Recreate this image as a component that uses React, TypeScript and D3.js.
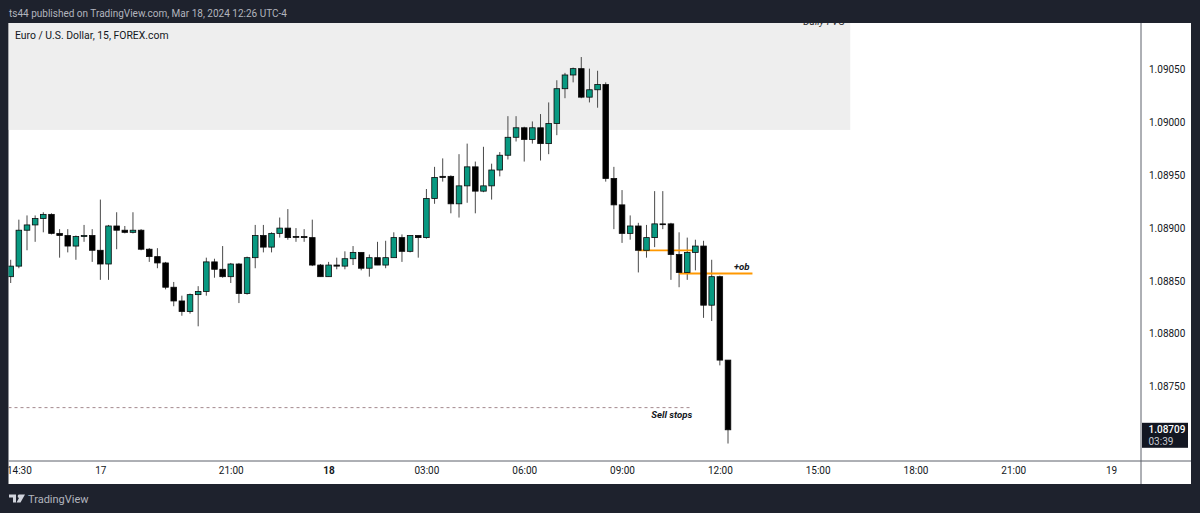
import React, { useEffect, useRef } from "react";
import * as d3 from "d3";

// 15 minute EURUSD bars, first bar is 14:15 on the 15th
const opens = [
  1.08854, 1.08864, 1.08898, 1.08903, 1.08909, 1.08913, 1.08895, 1.08893, 1.08883, 1.08892,
  1.08893, 1.08879, 1.08866, 1.08902, 1.08898, 1.08896, 1.08898, 1.0888, 1.08873, 1.08867,
  1.08844, 1.08831, 1.08821, 1.08837, 1.0884, 1.08868, 1.08861, 1.08854, 1.08866, 1.08838,
  1.08872, 1.08893, 1.08882, 1.08895, 1.089, 1.08892, 1.08892, 1.08891, 1.08865, 1.08854,
  1.08865, 1.08864, 1.08871, 1.08877, 1.08862, 1.08872, 1.08865, 1.08872, 1.08891, 1.08878,
  1.08893, 1.08891, 1.08928, 1.08949, 1.08949, 1.08923, 1.0894, 1.08958, 1.08935, 1.0894,
  1.08955, 1.08969, 1.08986, 1.08995, 1.08984, 1.08995, 1.0898, 1.08999, 1.09032, 1.09045,
  1.09051, 1.09024, 1.09031, 1.09036, 1.08947, 1.08922, 1.08895, 1.08902, 1.08879, 1.08891,
  1.08904, 1.08904, 1.08875, 1.08858, 1.08877, 1.08883, 1.08827, 1.08854, 1.08775,
];
const highs = [
  1.0887, 1.08908, 1.08912, 1.08912, 1.08915, 1.08914, 1.08899, 1.08899, 1.08893, 1.08903,
  1.08899, 1.08927, 1.08903, 1.08915, 1.08902, 1.08915, 1.08899, 1.08881, 1.08881, 1.08868,
  1.08849, 1.08836, 1.08838, 1.08845, 1.08872, 1.08871, 1.08883, 1.08867, 1.08867, 1.08873,
  1.08903, 1.08903, 1.08896, 1.0891, 1.08918, 1.089, 1.08899, 1.08908, 1.08866, 1.08868,
  1.08872, 1.08878, 1.08883, 1.08877, 1.08875, 1.08887, 1.08888, 1.08896, 1.08894, 1.08893,
  1.08893, 1.08937, 1.08958, 1.08966, 1.0895, 1.0897, 1.0898, 1.08963, 1.08977, 1.08961,
  1.08972, 1.09006, 1.09006, 1.08996, 1.09001, 1.09008, 1.09019, 1.0904, 1.09047, 1.09052,
  1.09062, 1.09051, 1.09049, 1.09038, 1.08958, 1.08936, 1.08912, 1.08905, 1.08903, 1.08935,
  1.08935, 1.08905, 1.08896, 1.08891, 1.08889, 1.08888, 1.0887, 1.08855, 1.08775,
];
const lows = [
  1.08848, 1.08862, 1.08879, 1.08887, 1.08896, 1.08894, 1.08872, 1.08877, 1.0887, 1.08887,
  1.08868, 1.08851, 1.08851, 1.0888, 1.08895, 1.08895, 1.08879, 1.08868, 1.08862, 1.08842,
  1.08826, 1.08817, 1.08819, 1.08807, 1.08836, 1.08853, 1.08853, 1.08848, 1.08829, 1.08837,
  1.08862, 1.08877, 1.08877, 1.08891, 1.08889, 1.08887, 1.08887, 1.08864, 1.08854, 1.08854,
  1.08861, 1.08861, 1.08865, 1.0886, 1.08854, 1.08865, 1.08862, 1.08872, 1.08868, 1.08877,
  1.08872, 1.0889, 1.08923, 1.08944, 1.08914, 1.0891, 1.08924, 1.08914, 1.08934, 1.08927,
  1.08949, 1.08965, 1.08982, 1.08963, 1.0898, 1.08964, 1.0897, 1.08988, 1.09023, 1.09038,
  1.09023, 1.09019, 1.09014, 1.08944, 1.08899, 1.08886, 1.08889, 1.08858, 1.08872, 1.08882,
  1.08899, 1.08851, 1.08844, 1.08851, 1.0886, 1.08815, 1.08812, 1.0877, 1.08696,
];
const closes = [
  1.08864, 1.08898, 1.08903, 1.08909, 1.08913, 1.08895, 1.08893, 1.08883, 1.08892, 1.08893,
  1.08879, 1.08866, 1.08902, 1.08898, 1.08896, 1.08898, 1.0888, 1.08873, 1.08867, 1.08844,
  1.08831, 1.08821, 1.08837, 1.0884, 1.08868, 1.08861, 1.08854, 1.08866, 1.08838, 1.08872,
  1.08893, 1.08882, 1.08895, 1.089, 1.08891, 1.08892, 1.08891, 1.08865, 1.08854, 1.08865,
  1.08864, 1.08871, 1.08877, 1.08862, 1.08872, 1.08865, 1.08872, 1.08891, 1.08878, 1.08893,
  1.08891, 1.08928, 1.08948, 1.08948, 1.08923, 1.0894, 1.08958, 1.08935, 1.0894, 1.08955,
  1.08969, 1.08986, 1.08995, 1.08984, 1.08995, 1.0898, 1.08999, 1.09032, 1.09045, 1.09051,
  1.09024, 1.09031, 1.09036, 1.08947, 1.08922, 1.08895, 1.08902, 1.08879, 1.08891, 1.08904,
  1.08904, 1.08875, 1.08858, 1.08877, 1.08883, 1.08827, 1.08854, 1.08775, 1.08709,
];

const priceTicks = [1.0905, 1.09, 1.0895, 1.089, 1.0885, 1.088, 1.0875];
const timeTickBars = [1, 11, 27, 39, 51, 63, 75, 87, 99, 111, 123, 135];
const timeTickLabels = ["14:30", "17", "21:00", "18", "03:00", "06:00", "09:00", "12:00", "15:00", "18:00", "21:00", "19"];

// drawings on the chart, in bar index / price
const zoneBottom = 1.08993;
const zoneEndBar = 103;
const obLevels = [
  { from: 77, to: 84, price: 1.08879 },
  { from: 82, to: 91, price: 1.08857 },
];
const sellStops = { to: 83.5, price: 1.0873 };
const lastPrice = 1.08709;
const countdown = "03:39";

const width = 1200;
const height = 513;
const pane = { left: 8.5, right: 1141, top: 23, bottom: 461 };
const outer = { right: 1191, bottom: 484 };
const font = "Roboto, sans-serif";
const frame = "#1e222d";
const upColor = "#089981";
const downColor = "#000000";

const App: React.FC = () => {
  const svgRef = useRef<SVGSVGElement | null>(null);

  useEffect(() => {
    const svg = d3.select(svgRef.current).attr("width", width).attr("height", height);
    svg.selectAll("*").remove();

    const x = d3.scaleLinear().domain([0, 88]).range([10.7, 728]);
    const y = d3.scaleLinear().domain([1.09, 1.0875]).range([122.5, 386.5]);

    svg.append("rect").attr("width", width).attr("height", height).attr("fill", frame);
    svg
      .append("rect")
      .attr("x", pane.left)
      .attr("y", pane.top)
      .attr("width", outer.right - pane.left)
      .attr("height", outer.bottom - pane.top)
      .attr("fill", "#ffffff");

    svg
      .append("clipPath")
      .attr("id", "pane")
      .append("rect")
      .attr("x", pane.left)
      .attr("y", pane.top)
      .attr("width", pane.right - pane.left)
      .attr("height", pane.bottom - pane.top);
    // used inside the translated axis group, so y starts at 0
    svg
      .append("clipPath")
      .attr("id", "timeaxis")
      .append("rect")
      .attr("x", pane.left)
      .attr("y", 0)
      .attr("width", pane.right - pane.left)
      .attr("height", outer.bottom - pane.bottom);

    const g = svg.append("g").attr("clip-path", "url(#pane)");

    g.append("rect")
      .attr("x", pane.left)
      .attr("y", pane.top)
      .attr("width", x(zoneEndBar) - pane.left)
      .attr("height", y(zoneBottom) - pane.top)
      .attr("fill", "#eeeeee");

    // label of the zone, almost entirely above the pane
    g.append("text")
      .attr("x", 824)
      .attr("y", 24.5)
      .attr("text-anchor", "middle")
      .attr("font-family", font)
      .attr("font-size", 10)
      .attr("font-style", "italic")
      .attr("fill", "#333333")
      .text("Daily FVG");

    g.append("text")
      .attr("x", 15)
      .attr("y", 38.5)
      .attr("font-family", font)
      .attr("font-size", 10.4)
      .attr("fill", "#131722")
      .text("Euro / U.S. Dollar, 15, FOREX.com");

    g.append("line")
      .attr("x1", pane.left)
      .attr("x2", x(sellStops.to))
      .attr("y1", y(sellStops.price))
      .attr("y2", y(sellStops.price))
      .attr("stroke", "#8c6b70")
      .attr("stroke-width", 0.8)
      .attr("stroke-dasharray", "3 3");
    g.append("text")
      .attr("x", x(sellStops.to) + 1)
      .attr("y", y(sellStops.price) + 10.5)
      .attr("text-anchor", "end")
      .attr("font-family", font)
      .attr("font-size", 9.6)
      .attr("font-style", "italic")
      .attr("font-weight", 700)
      .attr("fill", "#131722")
      .text("Sell stops");

    const bars = opens.map((o, i) => ({ i, o, h: highs[i], l: lows[i], c: closes[i] }));
    const bodyWidth = 5.6;

    g.selectAll(".wick")
      .data(bars)
      .enter()
      .append("line")
      .attr("class", "wick")
      .attr("x1", (d) => x(d.i))
      .attr("x2", (d) => x(d.i))
      .attr("y1", (d) => y(d.h))
      .attr("y2", (d) => y(d.l))
      .attr("stroke", "#4a4a4a")
      .attr("stroke-width", 1);

    g.selectAll(".ob")
      .data(obLevels)
      .enter()
      .append("line")
      .attr("class", "ob")
      .attr("x1", (d) => x(d.from))
      .attr("x2", (d) => x(d.to))
      .attr("y1", (d) => y(d.price))
      .attr("y2", (d) => y(d.price))
      .attr("stroke", "#ff9800")
      .attr("stroke-width", 1.8);

    g.selectAll(".body")
      .data(bars)
      .enter()
      .append("rect")
      .attr("class", "body")
      .attr("x", (d) => x(d.i) - bodyWidth / 2)
      .attr("y", (d) => y(Math.max(d.o, d.c)))
      .attr("width", bodyWidth)
      .attr("height", (d) => Math.max(0.8, y(Math.min(d.o, d.c)) - y(Math.max(d.o, d.c))))
      .attr("fill", (d) => (d.c > d.o ? upColor : downColor))
      .attr("stroke", "#0a0a0a")
      .attr("stroke-width", 0.8);

    g.append("text")
      .attr("x", x(obLevels[1].to) - 3)
      .attr("y", y(obLevels[1].price) - 4)
      .attr("text-anchor", "end")
      .attr("font-family", font)
      .attr("font-size", 9.6)
      .attr("font-style", "italic")
      .attr("font-weight", 700)
      .attr("fill", "#131722")
      .text("+ob");

    // price axis
    const yAxis = svg
      .append("g")
      .attr("transform", `translate(${pane.right},0)`)
      .call(d3.axisRight(y).tickValues(priceTicks).tickSize(0).tickPadding(8).tickFormat((d) => (d as number).toFixed(5)));
    yAxis.select(".domain").remove();
    yAxis.selectAll("text").attr("font-family", font).attr("font-size", 10).attr("fill", "#131722");

    // time axis
    const xAxis = svg
      .append("g")
      .attr("transform", `translate(0,${pane.bottom})`)
      .attr("clip-path", "url(#timeaxis)")
      .call(
        d3
          .axisBottom(x)
          .tickValues(timeTickBars)
          .tickSize(0)
          .tickPadding(6)
          .tickFormat((_, i) => timeTickLabels[i])
      );
    xAxis.select(".domain").remove();
    xAxis
      .selectAll("text")
      .attr("font-family", font)
      .attr("font-size", 10)
      .attr("fill", "#131722")
      .attr("font-weight", (_, i) => (timeTickLabels[i] === "18" ? 700 : 400));

    // pane borders
    const borders = [
      [pane.right, pane.top, pane.right, outer.bottom],
      [pane.left, pane.bottom, outer.right, pane.bottom],
    ];
    svg
      .selectAll(".border")
      .data(borders)
      .enter()
      .append("line")
      .attr("class", "border")
      .attr("x1", (d) => d[0])
      .attr("y1", (d) => d[1])
      .attr("x2", (d) => d[2])
      .attr("y2", (d) => d[3])
      .attr("stroke", "#5d606b")
      .attr("stroke-width", 1);

    // last price tag
    const tag = svg.append("g").attr("transform", `translate(${pane.right + 1},${y(lastPrice) - 7})`);
    tag.append("rect").attr("width", 46).attr("height", 25).attr("fill", "#131722");
    tag
      .append("text")
      .attr("x", 6.5)
      .attr("y", 10.5)
      .attr("font-family", font)
      .attr("font-size", 10)
      .attr("font-weight", 500)
      .attr("fill", "#ffffff")
      .text(lastPrice.toFixed(5));
    tag
      .append("text")
      .attr("x", 6.5)
      .attr("y", 22)
      .attr("font-family", font)
      .attr("font-size", 10)
      .attr("fill", "#c8cad0")
      .text(countdown);

    // header and footer
    svg
      .append("text")
      .attr("x", 9)
      .attr("y", 17)
      .attr("font-family", font)
      .attr("font-size", 10)
      .attr("fill", "#b2b5be")
      .text("ts44 published on TradingView.com, Mar 18, 2024 12:26 UTC-4");

    svg
      .append("path")
      .attr("transform", "translate(9,494.5)")
      .attr("d", "M0 0H7V8H4V3H0ZM11 0H16L11.5 8H7.5L10 3.5A1.8 1.8 0 1 1 11 0Z")
      .attr("fill", "#d1d4dc");
    svg
      .append("text")
      .attr("x", 28)
      .attr("y", 503)
      .attr("font-family", font)
      .attr("font-size", 11)
      .attr("fill", "#b2b5be")
      .text("TradingView");
  }, []);

  return (
    <div style={{ position: "fixed", left: 0, top: 0 }}>
      <svg ref={svgRef} style={{ display: "block" }}></svg>
    </div>
  );
};

export default App;
